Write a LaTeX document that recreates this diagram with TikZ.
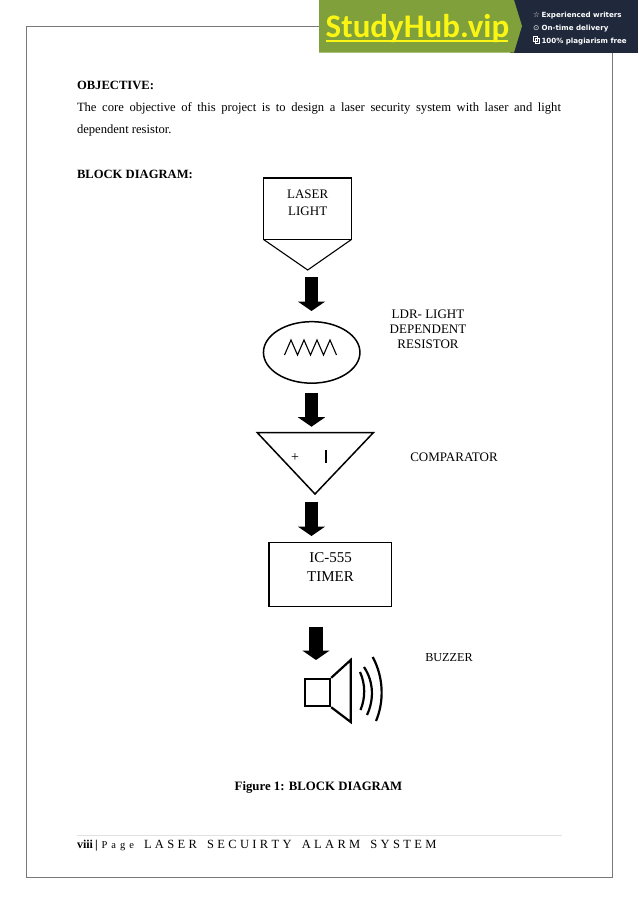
\documentclass[tikz,border=0pt]{standalone}
\usepackage{fontspec}
\setmainfont{Liberation Serif}
\newfontfamily\bannerfont{Carlito}
\newfontfamily\symfont{DejaVu Sans}
\usetikzlibrary{arrows.meta,shapes.geometric,calc}
\definecolor{framegray}{RGB}{120,120,120}
\definecolor{bannergreen}{RGB}{127,160,58}
\definecolor{bannerdark}{RGB}{31,41,59}
\definecolor{bannerlemon}{RGB}{250,245,20}
\definecolor{rulegray}{RGB}{225,225,225}
\tikzset{
  body/.style={inner sep=0pt,outer sep=0pt,anchor=base west,font=\fontsize{12.6}{21}\selectfont},
  lbl/.style={inner sep=0pt,outer sep=0pt,align=center,font=\fontsize{13}{15}\selectfont},
  shapeline/.style={draw=black,line width=1.5pt},
  block/.style={shapeline,rectangle,inner sep=0pt,outer sep=0pt},
  blockarrow/.style={draw=black,line width=13.5pt,-{Triangle[width=27pt,length=9.5pt]}},
  strap/.style={inner sep=0pt,outer sep=0pt,anchor=base west,text=white,font=\symfont\bfseries\fontsize{7.1}{9}\selectfont},
  strapicon/.style={inner sep=0pt,outer sep=0pt,anchor=base west,text=white,font=\symfont\fontsize{7.5}{9}\selectfont},
}
\begin{document}
\begin{tikzpicture}[x=1pt,y=-1pt]
\useasboundingbox (0,0) rectangle (638,903);
\fill[white] (0,0) rectangle (638,903);
% page frame
\draw[framegray,line width=1pt] (26,26) rectangle (612,877);
% banner
\fill[bannerdark] (510,0) rectangle (638,52.5);
\fill[bannergreen] (319,0) -- (514,0) -- (522,26) -- (514,52.5) -- (319,52.5) -- cycle;
\node[inner sep=0pt,anchor=base west,text=bannerlemon,font=\bannerfont\bfseries\fontsize{33}{33}\selectfont] (brand) at (325.5,37) {StudyHub.vip};
\fill[bannerlemon] (326,39.5) rectangle (508,41.5);
\node[strapicon] (i1) at (533,17) {☆};
\node[strapicon] (i2) at (533,30) {⊙};
\draw[white,line width=.4pt] (533.5,36.5) rectangle (537.5,41);
\draw[white,line width=.4pt] (535.2,38.3) rectangle (539,42.8);
\node[strap] (s1) at (541.5,17) {Experienced writers};
\node[strap] (s2) at (541.5,30) {On-time delivery};
\node[strap] (s3) at (541.5,43) {100\% plagiarism free};
% text
\node[body,font=\bfseries\fontsize{12.6}{21}\selectfont] (t1) at (77,89) {OBJECTIVE:};
\node[body] (t2) at (77,111) {\makebox[484pt][s]{The core objective of this project is to design a laser security system with laser and light}};
\node[body] (t3) at (77,133) {dependent resistor.};
\node[body,font=\bfseries\fontsize{12.6}{21}\selectfont] (t4) at (77,178) {BLOCK DIAGRAM:};
% laser
\node[block,minimum width=88pt,minimum height=61.5pt] (laser) at (307.5,208.7) {};
\node[lbl] (laserT) at (307.7,203) {LASER\\[2pt]LIGHT};
\coordinate (laserTip) at (307.7,270);
\draw[line width=1.1pt] (laser.south west) -- (laserTip) -- (laser.south east);
% LDR
\node[shapeline,ellipse,minimum width=96.5pt,minimum height=61.5pt,inner sep=0pt,outer sep=0pt] (ldr) at (311.7,352.4) {};
\draw[line width=1.1pt,line join=miter] (284.5,355) -- (291,340) -- (297.5,355) -- (304,340) -- (310.5,355) -- (317,340) -- (323.5,355) -- (330,340) -- (336.5,355);
\node[lbl] (ldrT) at (428,329.5) {LDR- LIGHT\\DEPENDENT\\RESISTOR};
% comparator
\coordinate (cL) at (257.3,432.7);
\coordinate (cR) at (373.3,432.7);
\coordinate (cB) at (315,494);
\draw[shapeline,line join=miter] (cL) -- (cR) -- (cB) -- cycle;
\node[lbl,font=\fontsize{14}{14}\selectfont] (plus) at (295,458) {+};
\node[minimum width=1.3pt,minimum height=13pt,inner sep=0pt,fill=black] (bar) at (326,456.5) {};
\node[lbl] (compT) at (454,457) {COMPARATOR};
% timer
\node[block,minimum width=122.5pt,minimum height=64pt] (timer) at (330.2,574.7) {};
\node[lbl,font=\fontsize{15}{19}\selectfont] (timerT) at (330.5,567.5) {IC-555\\TIMER};
% arrows
\coordinate (a1s) at (311.5,277); \coordinate (a1e) at (311.5,311);
\coordinate (a2s) at (311.5,392.7); \coordinate (a2e) at (311.5,426.7);
\coordinate (a3s) at (311.5,501.7); \coordinate (a3e) at (311.5,536);
\coordinate (a4s) at (316,626.7); \coordinate (a4e) at (316,660);
\draw[blockarrow] (a1s) -- (a1e);
\draw[blockarrow] (a2s) -- (a2e);
\draw[blockarrow] (a3s) -- (a3e);
\draw[blockarrow] (a4s) -- (a4e);
% speaker
\node[draw=black,line width=2.4pt,minimum width=25pt,minimum height=27pt,inner sep=0pt] (box) at (317.5,692.5) {};
\draw[line width=2.2pt,line join=miter] (box.north east) -- (350.7,660) -- (350.7,722) -- (box.south east);
\draw[line width=2.2pt] (360,672) .. controls (365.5,684) and (365.5,698) .. (360.5,710);
\draw[line width=2.2pt] (364,667) .. controls (374,682) and (374,700) .. (367,715);
\draw[line width=2.2pt] (372.7,657) .. controls (384,678) and (384,702) .. (376,721);
\node[lbl,font=\fontsize{12.2}{15}\selectfont] (buzT) at (449,658) {BUZZER};
% caption
\node[lbl,font=\bfseries\fontsize{12.8}{15}\selectfont] (cap) at (318.5,787) {Figure 1: BLOCK DIAGRAM};
% footer
\draw[rulegray,line width=.7pt] (77,835.5) -- (562,835.5);
\node[body,font=\bfseries\fontsize{12}{14}\selectfont] (foot1) at (77,848.5) {viii\,|};
\node[body,font=\fontsize{10.5}{12}\selectfont] (foot2) at (101.5,848.5) {\makebox[32.5pt][s]{P\hfil a\hfil g\hfil e}};
\node[body,font=\fontsize{12.5}{14}\selectfont] (foot3) at (144,848.5) {\makebox[292.5pt][s]{L\hfil A\hfil S\hfil E\hfil R\hfil\hfil\hfil S\hfil E\hfil C\hfil U\hfil I\hfil R\hfil T\hfil Y\hfil\hfil\hfil A\hfil L\hfil A\hfil R\hfil M\hfil\hfil\hfil S\hfil Y\hfil S\hfil T\hfil E\hfil M}};
\end{tikzpicture}
\end{document}
